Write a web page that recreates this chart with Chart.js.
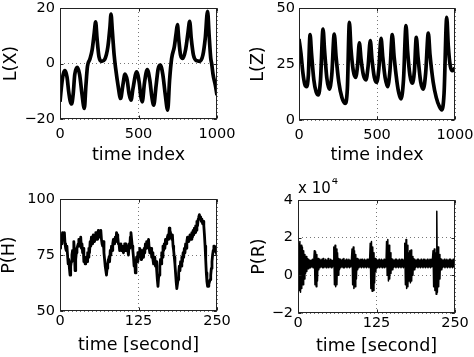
<!DOCTYPE html>
<html><head><meta charset="utf-8">
<script src="https://cdn.jsdelivr.net/npm/chart.js@4"></script>
<style>
html,body{margin:0;padding:0;background:#fff;}
#wrap{position:relative;width:474px;height:357px;overflow:hidden;}
canvas{position:absolute;}
</style></head><body>
<div id="wrap">
<canvas id="c1" width="237" height="178" style="left:0;top:0"></canvas>
<canvas id="c2" width="237" height="178" style="left:237px;top:0"></canvas>
<canvas id="c3" width="237" height="179" style="left:0;top:178px"></canvas>
<canvas id="c4" width="237" height="179" style="left:237px;top:178px"></canvas>
</div>
<script>
// ---- data ----
const lxTime = [0,10,20,32,45,55,65,74,84,94,110,125,140,155,165,175,190,205,218,227,236,248,265,285,305,318,325,333,345,355,370,386,400,414,428,440,452,465,488,505,515,524,538,556,572,585,597,612,625,639,655,670,686,698,711,728,740,748,756,768,782,800,815,826,836,850,870,890,910,925,940,950,960,966,975,990,1000];
const lxValues = [-13.8,-8,-4,-2.6,-5,-10,-13.5,-14.6,-11,-4,-1.4,-4,-11,-16.2,-8,-1,1.5,5,11,15,9,2.5,0.8,1.5,6,13,17.8,12,3,-2,-8,-12.6,-8,-3.8,-6,-11,-13.2,-9,-3,-7,-12,-13.8,-7,-2.2,-6,-12,-15,-8,-2,-0.6,-4,-11,-16.8,-6,1.8,6,11,14,9,3,1.8,5,11,15.2,9,3,1,0.8,3,9,18.8,10,2,0,-4,-8,-11.4];

const lzTime = [0,12,25,37,49,60,71,80,95,110,124,138,154,164,178,194,210,226,238,255,275,295,310,323,333,348,363,375,387,398,413,429,443,457,468,483,498,512,526,537,552,568,583,598,610,628,640,654,670,686,696,711,726,740,752,763,780,797,812,829,840,860,880,900,915,930,947,957,970,983,1000];
const lzValues = [36.2,30,21,16,14.9,20,38.1,30,18,12.5,11.2,18,40.6,31,19,13.8,20,38.4,28,17,10,7.4,14,43.6,32,22,19,24,34.4,27,20,17.9,24,35.4,27,19,16.8,23,36.5,28,19,14.9,22,38.1,28,17,12,9.4,18,42.1,31,20,16.4,22,36.9,28,17,13.8,21,38.8,29,17,10,6,4.5,12,45.8,33,24,22,23.2];

const phStep = 1; // seconds between samples
const phValues = [78,81,82,80,85,84,83,85,80,78,
77,79,75,71,73,69,66,70,72,75,
77,74,81,76,68,73,76,78,79,80,
82,79,81,83,78,80,76,78,72,74,
71,73,74,72,76,74,78,76,81,79,
83,80,82,84,84,81,83,85,85,82,
84,86,86,83,84,86,82,80,79,81,
76,73,70,68,66,69,71,73,74,72,
77,75,79,77,80,82,82,80,83,81,
85,84,83,80,80,77,78,80,77,79,
79,76,78,80,80,77,77,79,77,75,
80,78,83,85,82,79,77,74,70,72,
67,71,74,72,76,74,75,78,77,73,
74,77,76,74,78,76,80,78,81,79,
80,82,78,76,76,78,74,76,73,71,
71,74,70,72,68,64,61,65,66,70,
73,71,76,74,79,77,80,78,82,80,
81,83,84,82,87,86,85,83,82,84,
79,77,74,71,67,63,60,62,64,67,
70,68,72,70,74,72,76,74,78,76,
80,78,81,83,83,81,82,84,84,82,
85,83,86,84,87,85,88,86,90,88,
91,92,93,91,92,90,91,89,90,88,
84,79,73,67,63,61,61,62,63,64,
66,69,72,75,77,79,79,77,77,76,
75];

const prStep = 1; // seconds between samples
const prValues = [0.6,1.7,-0.8,1.8,-0.9,1.6,-0.7,1.5,-0.5,1.3,
-0.2,1.1,0.1,1.0,0.2,0.9,0.35,0.85,0.4,0.8,
0.4,0.8,0.45,0.85,0.4,0.7,1.3,-0.5,1.25,-0.6,
1.1,-0.3,0.9,0.3,0.85,0.4,0.8,0.45,0.85,0.4,
0.9,0.4,0.8,0.45,0.85,0.4,0.8,0.45,0.9,0.4,
0.8,0.45,0.85,0.4,0.8,0.45,0.8,1.5,-0.5,1.6,
-0.6,1.4,-0.5,1.2,0.0,0.9,0.3,0.85,0.4,0.8,
0.45,0.85,0.4,0.9,0.4,0.8,0.45,0.85,0.4,0.8,
0.45,0.85,0.4,0.8,0.45,0.8,1.4,-0.5,1.5,-0.7,
1.3,-0.6,1.1,-0.2,0.9,0.3,0.85,0.4,0.8,0.45,
0.85,0.4,0.85,0.45,0.8,0.4,0.85,0.45,0.8,0.4,
0.85,0.45,0.85,0.4,0.8,1.7,-0.7,1.8,-0.85,1.5,
-0.8,1.2,-0.4,0.9,0.2,0.85,0.4,0.8,0.45,0.85,
0.4,0.8,0.45,0.85,0.4,0.8,0.45,0.85,0.4,0.8,
0.45,1.8,0.0,1.9,-0.3,1.6,-0.2,1.2,0.1,0.9,
0.3,0.85,0.4,0.8,0.45,0.85,0.4,0.85,0.45,0.8,
0.4,0.85,0.45,0.8,0.4,0.85,0.45,0.85,0.4,0.8,
1.7,-0.5,1.9,-0.7,1.6,-0.6,1.2,-0.3,1.3,-0.4,
1.35,-0.3,1.0,0.0,0.9,0.3,0.85,0.4,0.8,0.45,
0.85,0.4,0.85,0.45,0.8,0.4,0.85,0.45,0.8,0.4,
0.85,0.45,0.85,0.4,0.8,0.45,0.85,0.4,0.8,0.45,
0.85,0.4,0.85,0.45,0.8,1.3,-0.6,1.4,-0.8,1.2,
-1.0,3.4,-0.9,1.5,-0.6,1.1,-0.2,0.9,0.3,0.85,
0.4,0.8,0.45,0.85,0.4,0.8,0.45,0.85,0.4,0.8,
0.45,0.85,0.4,0.85,0.45,0.8,0.4,0.85,0.45,0.8,
0.6];

const xTicksIndex = [0,500,1000];
const xTicksSecond = [0,125,250];
const lxTicks = [-20,0,20];
const lzTicks = [0,25,50];
const phTicks = [50,75,100];
const prTicks = [-2,0,2,4];

// ---- helpers ----
Chart.defaults.color = '#000';
Chart.defaults.font.family = 'DejaVu Sans';
const FONT_TICK = 14.5, FONT_TITLE = 17.5;

function pairs(t, v){ return v.map((y,i)=>({x:t[i], y})); }
function stepPairs(step, v){ return v.map((y,i)=>({x:i*step, y})); }
function fmt(v){ return (v<0?'\u2212':'') + Math.abs(v); }

const boxPlugin = {
  id:'box',
  afterDatasetsDraw(chart){
    const {ctx, chartArea:a} = chart;
    ctx.save();
    ctx.strokeStyle = '#222'; ctx.lineWidth = 1;
    const l = Math.round(a.left)+0.5, t = Math.round(a.top)+0.5;
    const r = Math.round(a.right)-0.5, b = Math.round(a.bottom)-0.5;
    ctx.strokeRect(l, t, r-l, b-t);
    const xs = chart.scales.x, ys = chart.scales.y;
    ctx.beginPath();
    xs.ticks.forEach(tk=>{ const p = Math.round(xs.getPixelForValue(tk.value))+0.5;
      ctx.moveTo(p,b); ctx.lineTo(p,b-3); ctx.moveTo(p,t); ctx.lineTo(p,t+3); });
    ys.ticks.forEach(tk=>{ const p = Math.round(ys.getPixelForValue(tk.value))+0.5;
      ctx.moveTo(l,p); ctx.lineTo(l+3,p); ctx.moveTo(r,p); ctx.lineTo(r-3,p); });
    ctx.stroke();
    ctx.restore();
  }
};

function makeChart(id, cfg){
  const ctx = document.getElementById(id);
  const plugins = [boxPlugin];
  if (cfg.exponent) plugins.push({
    id:'exp',
    afterDraw(chart){
      const {ctx, chartArea:a} = chart;
      ctx.save();
      ctx.fillStyle = '#000';
      ctx.textBaseline = 'alphabetic';
      ctx.font = '15px "DejaVu Sans"';
      const base = 'x 10';
      ctx.fillText(base, a.left, a.top - 7);
      const w = ctx.measureText(base).width;
      ctx.font = '10px "DejaVu Sans"';
      ctx.fillText(cfg.exponent, a.left + w + 1, a.top - 16);
      ctx.restore();
    }
  });
  return new Chart(ctx, {
    type:'line',
    data:{ datasets:[{ data: cfg.data, borderColor:'#000', borderWidth: cfg.lw,
      pointRadius:0, fill:false, tension: cfg.smooth ? 0.4 : 0,
      cubicInterpolationMode: cfg.smooth ? 'monotone' : 'default', borderJoinStyle:'round' }]},
    options:{
      responsive:false, animation:false, events:[],
      layout:{ padding:{ top: cfg.padTop, right: cfg.padRight, left:0, bottom:0 } },
      plugins:{ legend:{display:false}, tooltip:{enabled:false} },
      scales:{
        x:{ type:'linear', min: cfg.xTicks[0], max: cfg.xTicks[cfg.xTicks.length-1],
          afterBuildTicks: s => { s.ticks = cfg.xTicks.map(v=>({value:v})); },
          afterFit: s => { s.height = cfg.xHeight; s.paddingLeft = 0; s.paddingRight = 0; },
          grid:{ color:'#777', lineWidth:1, drawTicks:false },
          border:{ display:false, dash:[1,3] },
          ticks:{ autoSkip:false, maxRotation:0, padding: cfg.xTickPad, font:{size:FONT_TICK}, callback: v => fmt(v) },
          title:{ display:true, text: cfg.xTitle, font:{size:FONT_TITLE}, padding:{top:0, bottom: cfg.xTitlePad} }
        },
        y:{ type:'linear', min: cfg.yTicks[0], max: cfg.yTicks[cfg.yTicks.length-1],
          afterBuildTicks: s => { s.ticks = cfg.yTicks.map(v=>({value:v})); },
          afterFit: s => { s.width = cfg.yWidth; s.paddingTop = 0; s.paddingBottom = 0; },
          grid:{ color:'#777', lineWidth:1, drawTicks:false },
          border:{ display:false, dash:[1,3] },
          ticks:{ autoSkip:false, padding: cfg.yTickPad, font:{size:FONT_TICK}, callback: v => fmt(v) },
          title:{ display:true, text: cfg.yTitle, font:{size:FONT_TITLE}, padding:{top: cfg.yTitlePad, bottom:0} }
        }
      }
    },
    plugins
  });
}

makeChart('c1', { data: pairs(lxTime, lxValues), smooth:true, lw:3.7,
  xTicks: xTicksIndex, yTicks: lxTicks, xTitle:'time index', yTitle:'L(X)',
  padTop:8, padRight:20, yWidth:60, xHeight:59, xTickPad:7, xTitlePad:12, yTickPad:5, yTitlePad:0.5 });
makeChart('c2', { data: pairs(lzTime, lzValues), smooth:true, lw:3.7,
  xTicks: xTicksIndex, yTicks: lzTicks, xTitle:'time index', yTitle:'L(Z)',
  padTop:8, padRight:19, yWidth:62, xHeight:58, xTickPad:7, xTitlePad:12, yTickPad:4, yTitlePad:10.5 });
makeChart('c3', { data: stepPairs(phStep, phValues), smooth:false, lw:2.8,
  xTicks: xTicksSecond, yTicks: phTicks, xTitle:'time [second]', yTitle:'P(H)',
  padTop:21, padRight:20, yWidth:60, xHeight:46, xTickPad:2, xTitlePad:1.5, yTickPad:5, yTitlePad:-1.5 });
makeChart('c4', { data: stepPairs(prStep, prValues), smooth:false, lw:1.5,
  xTicks: xTicksSecond, yTicks: prTicks, xTitle:'time [second]', yTitle:'P(R)', exponent:'4',
  padTop:22, padRight:19, yWidth:61, xHeight:44, xTickPad:2, xTitlePad:0.5, yTickPad:5, yTitlePad:12 });
</script>
</body></html>
